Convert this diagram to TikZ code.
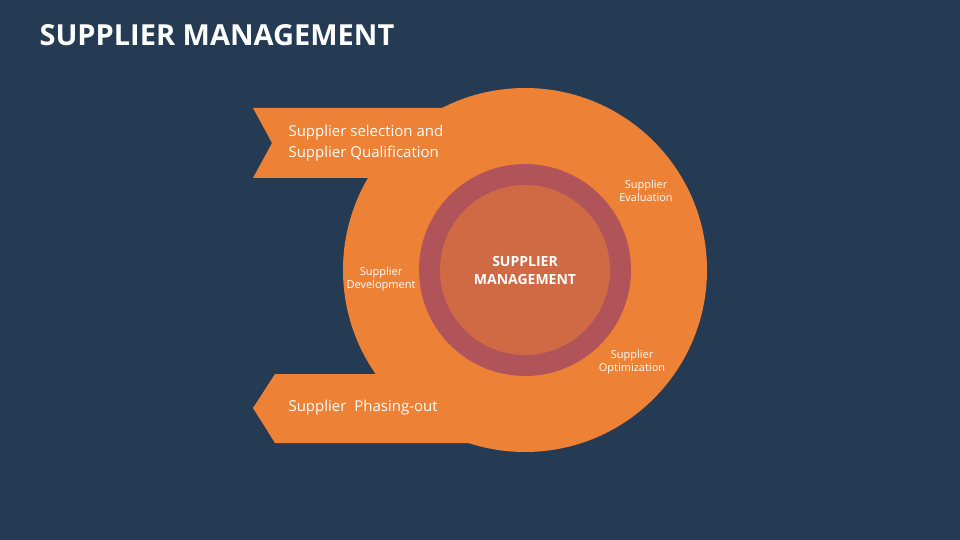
\documentclass[tikz,border=0pt]{standalone}
\usepackage{fontspec}
\setmainfont{Open Sans}
\definecolor{bg}{HTML}{253A53}
\definecolor{org}{HTML}{ED8236}
\definecolor{ring}{HTML}{B0545A}
\definecolor{core}{HTML}{CF6A45}
\tikzset{lbl/.style={text=white,font=\fontsize{11}{13}\selectfont,align=center},
 ban/.style={text=white,font=\fontsize{15}{21}\selectfont,align=left,anchor=west}}
\begin{document}
\begin{tikzpicture}[x=1pt,y=-1pt]
\fill[bg] (0,0) rectangle (960,540);
\useasboundingbox (0,0) rectangle (960,540);
\node[text=white,font=\fontsize{29}{32}\selectfont\bfseries,anchor=west] (title) at (36,35) {SUPPLIER MANAGEMENT};
\fill[org] (253,108) -- (500,108) -- (500,178) -- (253,178) -- (272,143) -- cycle;
\fill[org] (275,374) -- (500,374) -- (500,443) -- (275,443) -- (253,408) -- cycle;
\fill[org] (525,270) circle (182);
\fill[ring] (525,270) circle (106);
\fill[core] (525,270) circle (85);
\node[text=white,font=\fontsize{14}{18}\selectfont\bfseries,align=center] (c) at (525,270) {SUPPLIER\\MANAGEMENT};
\node[ban] (t1) at (285,143) {Supplier selection and\\Supplier Qualification};
\node[ban] (t2) at (285,408) {Supplier\ \ Phasing-out};
\node[lbl] (e) at (646,191) {Supplier\\Evaluation};
\node[lbl] (d) at (381,279) {Supplier\\Development};
\node[lbl] (o) at (632,362) {Supplier\\Optimization};
\end{tikzpicture}
\end{document}
